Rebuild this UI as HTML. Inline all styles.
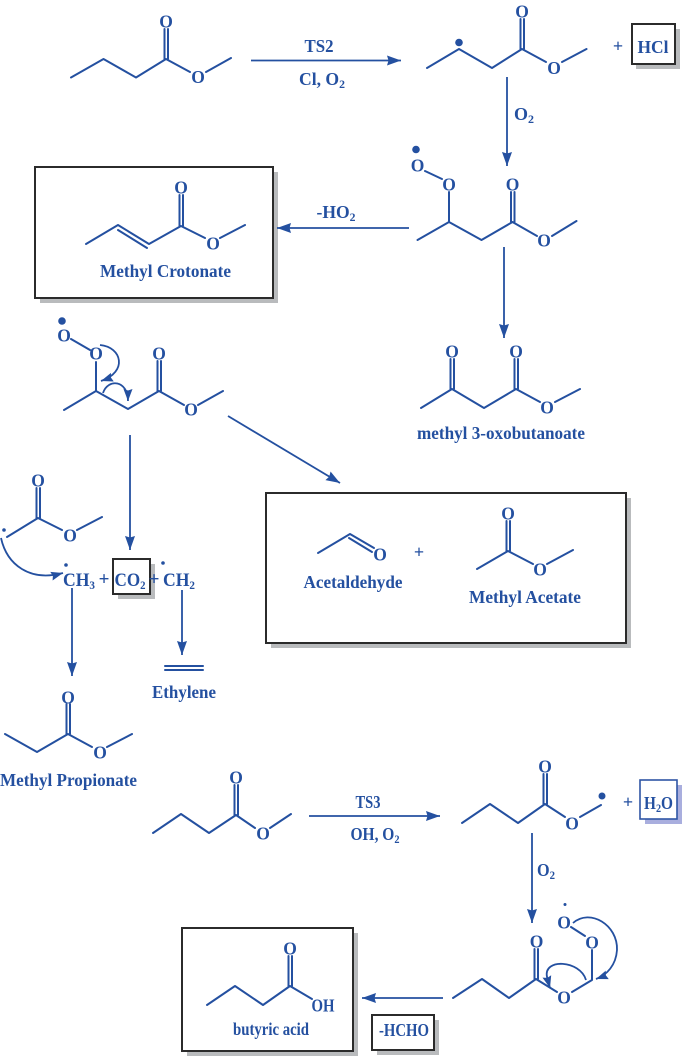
<!DOCTYPE html>
<html><head><meta charset="utf-8">
<style>
html,body{margin:0;padding:0;background:#fff}
svg{display:block}
.b{fill:none;stroke:#2450a0;stroke-width:2;stroke-linecap:round;stroke-linejoin:round}
.a{fill:none;stroke:#2450a0;stroke-width:1.8;marker-end:url(#h)}
.c{fill:none;stroke:#2450a0;stroke-width:1.8;marker-end:url(#s)}
text{font-family:"Liberation Serif",serif;font-weight:bold;fill:#2450a0;text-anchor:middle}
.o{font-size:17.5px}
.l{font-size:18px}
.m{font-size:19px}
.p{font-size:18px}
.sub{font-size:12px}
.box{fill:#fff;stroke:#2b2b2b;stroke-width:2}
.sh{fill:#b9bbbd}
.dot{fill:#2450a0}
</style></head><body>
<svg width="685" height="1056" viewBox="0 0 685 1056" xmlns="http://www.w3.org/2000/svg">
<defs>
<marker id="h" markerUnits="userSpaceOnUse" markerWidth="16" markerHeight="12" refX="14" refY="6" orient="auto"><path d="M0 1 L14 6 L0 11 L1.500 6Z" fill="#2450a0"/></marker>
<marker id="s" markerUnits="userSpaceOnUse" markerWidth="14" markerHeight="12" refX="12" refY="6" orient="auto"><path d="M0 1.500 L12 6 L0 10.500 L1.500 6Z" fill="#2450a0"/></marker>
</defs>

<!-- boxes -->
<rect class="sh" x="636" y="29" width="44" height="40"/><rect class="box" x="632" y="24" width="43" height="40"/>
<rect class="sh" x="40" y="172" width="238" height="131"/><rect class="box" x="35" y="167" width="238" height="131"/>
<rect class="sh" x="271" y="498" width="360" height="150"/><rect class="box" x="266" y="493" width="360" height="150"/>
<rect class="sh" x="118" y="564" width="37" height="35"/><rect class="box" x="113" y="559" width="37" height="35"/>
<rect fill="#a9aede" x="645" y="785" width="37" height="39"/><rect fill="#fff" stroke="#2f55a5" stroke-width="1.6" x="640" y="780" width="37" height="39"/>
<rect class="sh" x="187" y="933" width="171" height="123"/><rect class="box" x="182" y="928" width="171" height="123"/>
<rect class="sh" x="377" y="1020" width="62" height="35"/><rect class="box" x="372" y="1015" width="62" height="35"/>

<!-- mol 1 -->
<path class="b" d="M71 77.500 L103.500 59 L136 77.500 L166 59 L190 72 M206 72 L231 58 M164.500 59 V29 M168 59 V29"/>
<text class="o" x="166" y="27.500">O</text><text class="o" x="198" y="83">O</text>
<path class="a" d="M251 60.500 H401"/>
<text class="l" x="319" y="52" textLength="29" lengthAdjust="spacingAndGlyphs">TS2</text>
<text class="l" x="322" y="85" textLength="46" lengthAdjust="spacingAndGlyphs">Cl, O<tspan class="sub" dy="3">2</tspan></text>

<!-- mol 2 -->
<path class="b" d="M427 68 L459 49 L492 68 L522 49 L546 62 M562 62 L586.500 49 M520.500 49 V19 M524 49 V19"/>
<circle class="dot" cx="459" cy="42.500" r="3.800"/>
<text class="o" x="522" y="17.500">O</text><text class="o" x="554" y="74">O</text>
<text class="p" x="618" y="52">+</text>
<text class="l" x="653" y="53" textLength="31" lengthAdjust="spacingAndGlyphs">HCl</text>
<path class="a" d="M507 77 V166"/>
<text class="l" x="524" y="120" textLength="20" lengthAdjust="spacingAndGlyphs">O<tspan class="sub" dy="3">2</tspan></text>

<!-- mol 3 -->
<circle class="dot" cx="416" cy="149.500" r="3.800"/>
<text class="o" x="417.500" y="171.500">O</text><text class="o" x="449" y="190.500">O</text>
<path class="b" d="M425 171 L442 179 M449 192 V222 M417.500 240 L449 222 L481.500 240 L512.500 222 L537 236 M552 236 L576.500 221 M511 222 V192 M514.500 222 V192"/>
<text class="o" x="512.500" y="190.500">O</text><text class="o" x="544" y="246.500">O</text>
<path class="a" d="M409 228 H277"/>
<text class="l" x="336" y="218" textLength="39" lengthAdjust="spacingAndGlyphs">-HO<tspan class="sub" dy="3">2</tspan></text>
<path class="a" d="M504 247 V338"/>

<!-- crotonate -->
<path class="b" d="M86 244 L118 225 L149 244 L181 226 L205 238 M220 238 L245 225 M118 230 L147 248 M179.500 226 V195 M183 226 V195"/>
<text class="o" x="181" y="193.500">O</text><text class="o" x="213" y="249.500">O</text>
<text class="l" x="165.500" y="277" textLength="131" lengthAdjust="spacingAndGlyphs">Methyl Crotonate</text>

<!-- oxobutanoate -->
<path class="b" d="M421 408 L452 389 L484 408 L516 389 L540 402 M555 402 L580 389 M450.500 389 V359 M454 389 V359 M514.500 389 V359 M518 389 V359"/>
<text class="o" x="452" y="357.500">O</text><text class="o" x="516" y="357.500">O</text><text class="o" x="547" y="413.500">O</text>
<text class="l" x="501" y="439" textLength="168" lengthAdjust="spacingAndGlyphs">methyl 3-oxobutanoate</text>

<!-- peroxy with curved arrows -->
<circle class="dot" cx="62" cy="321" r="3.800"/>
<text class="o" x="64" y="341.500">O</text><text class="o" x="96" y="359.500">O</text>
<path class="b" d="M71 339 L90 350 M96 362 V391 M64 410 L96 391 L128 409 L159 391 L184 405 M198 405 L223 391 M157.500 391 V361 M161 391 V361"/>
<text class="o" x="159" y="359.500">O</text><text class="o" x="191" y="415.500">O</text>
<path class="c" d="M100 345 C122 347,128 372,101 381"/>
<path class="c" d="M103 393 C108 378,128 380,128 401"/>
<path class="a" d="M130 435 V550"/>
<path class="a" d="M228 416 L340 483"/>

<!-- acetaldehyde + methyl acetate -->
<path class="b" d="M318 553 L350 534 L374 548 M349 538 L372 552"/>
<text class="o" x="380" y="560.500">O</text>
<text class="l" x="353" y="588" textLength="99" lengthAdjust="spacingAndGlyphs">Acetaldehyde</text>
<text class="p" x="419" y="558">+</text>
<path class="b" d="M477 569 L508 551 L533 564 M547 564 L573 550 M506.500 551 V521 M510 551 V521"/>
<text class="o" x="508" y="519.500">O</text><text class="o" x="540" y="575.500">O</text>
<text class="l" x="525" y="603" textLength="112" lengthAdjust="spacingAndGlyphs">Methyl Acetate</text>

<!-- small radical ester -->
<circle class="dot" cx="4" cy="530" r="1.800"/>
<path class="b" d="M7 537 L38 518 L62 530 M77 530 L102 517 M36.500 518 V488 M40 518 V488"/>
<text class="o" x="38" y="486.500">O</text><text class="o" x="70" y="541.500">O</text>
<path class="c" d="M1 538 C7 565,30 582,63 573"/>

<!-- CH3 + CO2 + CH2 -->
<circle class="dot" cx="66" cy="565" r="1.800"/>
<text class="m" x="79" y="586" textLength="32" lengthAdjust="spacingAndGlyphs">CH<tspan class="sub" dy="3">3</tspan></text>
<text class="m" x="104" y="585">+</text>
<text class="m" x="130" y="586" textLength="31" lengthAdjust="spacingAndGlyphs">CO<tspan class="sub" dy="3">2</tspan></text>
<text class="m" x="154" y="585">+</text>
<circle class="dot" cx="163" cy="563" r="1.800"/>
<text class="m" x="179" y="586" textLength="32" lengthAdjust="spacingAndGlyphs">CH<tspan class="sub" dy="3">2</tspan></text>
<path class="a" d="M72 588 V676"/>
<path class="a" d="M182 590 V655"/>
<path class="b" d="M165 666 H203 M165 670 H203"/>
<text class="l" x="184" y="698" textLength="64" lengthAdjust="spacingAndGlyphs">Ethylene</text>

<!-- propionate -->
<path class="b" d="M5 734 L37 752 L68 734 L92 747 M107 747 L132 734 M66.500 734 V704 M70 734 V704"/>
<text class="o" x="68" y="703.500">O</text><text class="o" x="100" y="758.500">O</text>
<text class="l" x="68.500" y="786" textLength="137" lengthAdjust="spacingAndGlyphs">Methyl Propionate</text>

<!-- lower row -->
<path class="b" d="M153 833 L181 814 L209 833 L236 815 L255 828 M270 828 L291 814 M234.500 815 V785 M238 815 V785"/>
<text class="o" x="236" y="783.500">O</text><text class="o" x="263" y="839.500">O</text>
<path class="a" d="M309 816 H440"/>
<text class="l" x="368" y="808" textLength="25" lengthAdjust="spacingAndGlyphs">TS3</text>
<text class="l" x="375" y="840" textLength="49" lengthAdjust="spacingAndGlyphs">OH, O<tspan class="sub" dy="3">2</tspan></text>

<path class="b" d="M462 823 L490 804 L518 823 L545 804 L565 817 M580 817 L601 805 M543.500 804 V774 M547 804 V774"/>
<text class="o" x="545" y="772.500">O</text><text class="o" x="572" y="829.500">O</text>
<circle class="dot" cx="602" cy="796" r="3.500"/>
<text class="p" x="628" y="808">+</text>
<text class="l" x="658.500" y="809" textLength="29" lengthAdjust="spacingAndGlyphs">H<tspan class="sub" dy="3">2</tspan><tspan dy="-3">O</tspan></text>
<path class="a" d="M532 833 V923"/>
<text class="l" x="546" y="876" textLength="18" lengthAdjust="spacingAndGlyphs">O<tspan class="sub" dy="3">2</tspan></text>

<circle class="dot" cx="565" cy="904.500" r="1.500"/>
<path class="b" d="M453 998 L482 979 L509 998 L536 979 L557 992 M572 992 L592 980 V950 M571 927 L585 936 M534.500 979 V949 M538 979 V949"/>
<text class="o" x="564" y="928.500">O</text><text class="o" x="592" y="948.500">O</text>
<text class="o" x="536.500" y="947.500">O</text><text class="o" x="564" y="1003.500">O</text>
<path class="c" d="M573 923 C590 908,618 925,617 950 C616 965,607 975,596 979"/>
<path class="c" d="M586 980 C580 960,543 958,547 977 L550 988"/>
<path class="a" d="M443 998 H362"/>
<text class="l" x="404" y="1036" textLength="50" lengthAdjust="spacingAndGlyphs">-HCHO</text>

<!-- butyric -->
<path class="b" d="M207 1005 L235 986 L263 1005 L290 986 L312 999 M288.500 986 V956 M292 986 V956"/>
<text class="o" x="290" y="954.500">O</text><text class="o" x="323" y="1011.500" textLength="23" lengthAdjust="spacingAndGlyphs">OH</text>
<text class="l" x="271" y="1035" textLength="76" lengthAdjust="spacingAndGlyphs">butyric acid</text>
</svg>
</body></html>
